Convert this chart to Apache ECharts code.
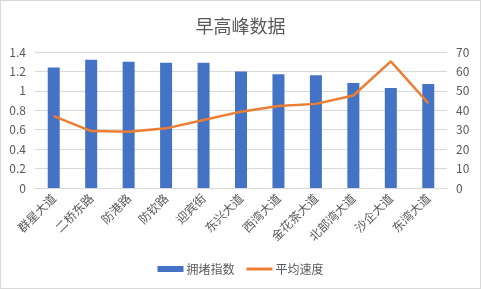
<!DOCTYPE html>
<html><head><meta charset="utf-8">
<script src="https://cdn.jsdelivr.net/npm/echarts@6/dist/echarts.min.js"></script>
<style>html,body{margin:0;padding:0;background:#fff}#c{width:479px;height:287px;border:1px solid #d9d9d9}</style>
</head><body><div id="c"></div>
<script>
const categories = ['群星大道','二桥东路','防港路','防钦路','迎宾街','东兴大道','西湾大道','金花茶大道','北部湾大道','沙企大道','东湾大道'];
const congestion = [1.24,1.32,1.30,1.29,1.29,1.20,1.17,1.16,1.08,1.03,1.07];
const speed = [37,29.3,29,30.7,35,39.3,42.2,43.3,47.6,65.2,43.6];
const leftTicks = [0,1.4,0.2];
const rightTicks = [0,70,10];
const chart = echarts.init(document.getElementById('c'));
const font = '"Noto Sans CJK SC", sans-serif';
chart.setOption({
  animation:false,
  textStyle:{fontFamily:font},
  title:{text:'早高峰数据',left:'center',top:11,textStyle:{fontSize:18,fontWeight:'normal',color:'#595959',fontFamily:font}},
  legend:{bottom:8,itemGap:12,itemWidth:26,itemHeight:6,
    textStyle:{fontSize:12,color:'#595959',fontFamily:font,padding:[0,0,0,-2]},
    data:[{name:'拥堵指数',icon:'rect'},{name:'平均速度',icon:'path://M0,0L26,0L26,3L0,3Z'}]},
  grid:{left:34,right:33,top:51,bottom:100,containLabel:false},
  xAxis:{type:'category',data:categories,
    axisLine:{lineStyle:{color:'#d9d9d9'}},axisTick:{show:false},
    axisLabel:{rotate:45,interval:0,fontSize:12,color:'#595959',margin:8,fontFamily:font}},
  yAxis:[
    {type:'value',min:leftTicks[0],max:leftTicks[1],interval:leftTicks[2],
     axisLine:{show:false},axisTick:{show:false},
     splitLine:{lineStyle:{color:'#d9d9d9'}},
     axisLabel:{fontSize:12,color:'#595959',margin:9,formatter:v=>String(Math.round(v*10)/10)}},
    {type:'value',min:rightTicks[0],max:rightTicks[1],interval:rightTicks[2],
     axisLine:{show:false},axisTick:{show:false},splitLine:{show:false},
     axisLabel:{fontSize:12,color:'#595959',margin:9}}
  ],
  series:[
    {name:'拥堵指数',type:'bar',data:congestion,barWidth:12,itemStyle:{color:'#4472c4'}},
    {name:'平均速度',type:'line',yAxisIndex:1,data:speed,symbol:'none',lineStyle:{color:'#ed7d31',width:2.5},itemStyle:{color:'#ed7d31'}}
  ]
});
</script></body></html>
